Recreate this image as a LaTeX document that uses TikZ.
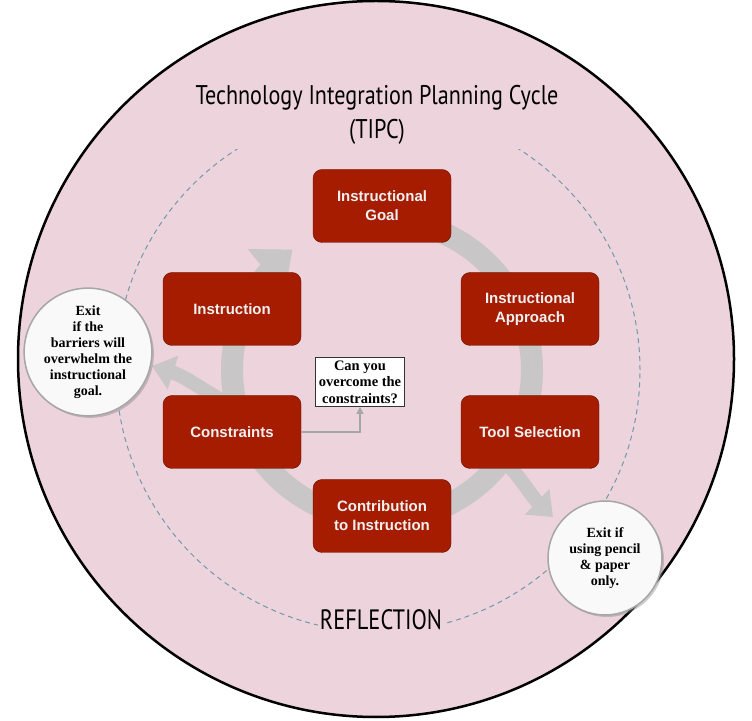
\documentclass[tikz,border=0pt]{standalone}
\usepackage{fontspec}
\setmainfont{Liberation Sans}
\newfontfamily\serifb{Liberation Serif}
\newfontfamily\titlef{PT Sans}
\usetikzlibrary{arrows.meta,calc,shadows}
\definecolor{bgpink}{HTML}{EDD3DC}
\definecolor{boxred}{HTML}{A51C00}
\definecolor{ringgray}{HTML}{C8C6C6}
\definecolor{dashblue}{HTML}{6F9AAA}
\begin{document}
\begin{tikzpicture}[x=1pt,y=1pt,
  stagebox/.style={draw=boxred!60!black,fill=boxred,rounded corners=9pt,minimum width=138pt,minimum height=73pt,text=white!88!gray,font=\bfseries\fontsize{15}{19}\selectfont,align=center},
  exitc/.style={circle,draw=gray!70,line width=1.5pt,fill=white!95!gray,drop shadow={shadow xshift=2pt,shadow yshift=-2pt,opacity=.4},font=\serifb\bfseries\fontsize{14}{16}\selectfont,align=center,inner sep=0pt},
  ring/.style={line width=22pt,draw=ringgray}]
\useasboundingbox (0,0) rectangle (752,720);
\fill[white] (0,0) rectangle (752,720);
\node[circle,draw=black,line width=2.5pt,fill=bgpink,minimum size=716pt] (outer) at (376,361) {};
\coordinate (c) at (382,350);
\draw[dashblue,line width=1pt,dash pattern=on 5pt off 4pt] (378,350) circle (262);
% ring
\draw[ring,-{Triangle[length=34pt,width=56pt]}] ($(c)+(450:150)$) arc (450:132:150) -- ++(40:14);
\draw[ring,line width=14pt,-{Triangle[length=22pt,width=34pt]}] ($(c)+(194:150)$) .. controls (215,320) and (190,342) .. (152,354);
\draw[ring,line width=14pt,-{Triangle[length=22pt,width=34pt]}] ($(c)+(322:150)$) .. controls (510,260) and (530,225) .. (553,203);
% boxes
\node[stagebox] (goal) at (382,514) {Instructional\\Goal};
\node[stagebox] (appr) at (530,411) {Instructional\\Approach};
\node[stagebox] (tool) at (530,288) {Tool Selection};
\node[stagebox] (contr) at (382,204) {Contribution\\to Instruction};
\node[stagebox] (cons) at (232,288) {Constraints};
\node[stagebox] (instr) at (232,411) {Instruction};
\node[draw=black!80,line width=1.2pt,fill=white,font=\serifb\bfseries\fontsize{14.5}{16.5}\selectfont,align=center,inner sep=3pt] (q) at (360,338) {Can you\\overcome the\\constraints?};
\draw[gray!70,line width=1.3pt,-{Triangle[length=7pt,width=7pt]}] (cons.east) -| (q.south);
\node[exitc,minimum size=124pt] (exl) at (88,368) {Exit\\if the\\barriers will\\overwhelm the\\instructional\\goal.};
\node[exitc,minimum size=114pt] (exr) at (605,162) {Exit if\\using pencil\\\& paper\\only.};
% titles
\node[fill=bgpink,font=\titlef\fontsize{27}{34}\selectfont,align=center,xscale=0.82,inner sep=4pt] (title) at (377,605) {Technology Integration Planning Cycle\\(TIPC)};
\node[fill=bgpink,font=\titlef\fontsize{28}{30}\selectfont,xscale=0.8,inner sep=3pt] (refl) at (381,100) {REFLECTION};
\end{tikzpicture}
\end{document}
